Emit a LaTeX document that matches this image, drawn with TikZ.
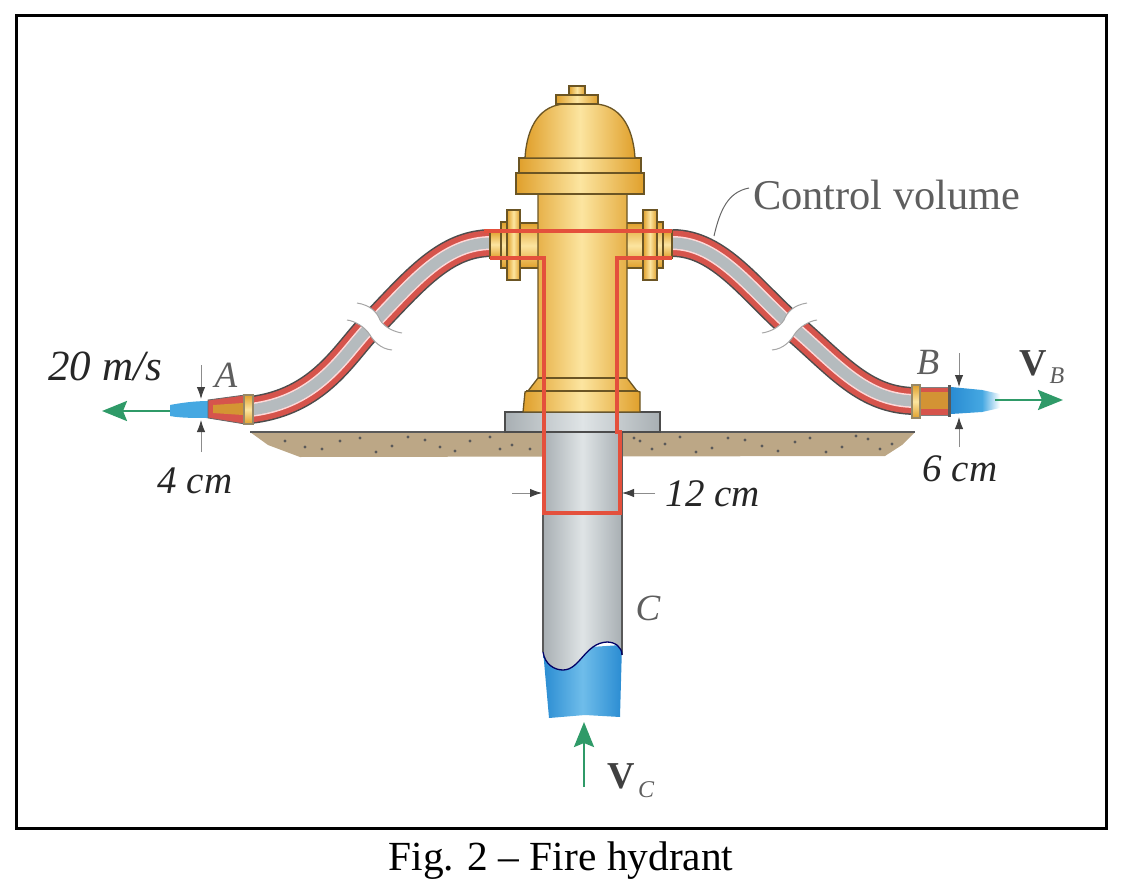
\documentclass[tikz,border=0pt]{standalone}
\usepackage{fontspec}
\setmainfont{Liberation Serif}
\usetikzlibrary{arrows.meta, positioning}
\definecolor{goldA}{HTML}{E0A02C}
\definecolor{goldB}{HTML}{FCE5A0}
\definecolor{goldEdge}{HTML}{6B5524}
\definecolor{hoseRed}{HTML}{D6544C}
\definecolor{volRed}{HTML}{E4503C}
\definecolor{pipeA}{HTML}{A8AFB3}
\definecolor{pipeB}{HTML}{DFE4E6}
\definecolor{waterA}{HTML}{2A8CD2}
\definecolor{waterB}{HTML}{6FBDEA}
\definecolor{waterC}{HTML}{45A8E2}
\definecolor{arrowGreen}{HTML}{2F9A68}
\definecolor{soil}{HTML}{BCA786}
\definecolor{labelGray}{HTML}{5E5E5E}
\newcommand{\hoseLeft}{(250,410) .. controls (320,402) and (345,352) .. (370,327) .. controls (415,280) and (445,243) .. (492,243)}
\newcommand{\hoseRight}{(672,243) .. controls (720,243) and (752,292) .. (794,328) .. controls (838,366) and (865,401) .. (916,401)}
\begin{document}
\begin{tikzpicture}
    [
        x=1pt, y=-1pt,
        goldpart/.style={draw=goldEdge, line width=1.3pt, left color=goldA, right color=goldA, middle color=goldB},
        goldarm/.style={draw=goldEdge, line width=1.3pt, top color=goldA, bottom color=goldA, middle color=goldB},
        platepart/.style={left color=pipeA, right color=pipeA, middle color=pipeB},
        cvline/.style={draw=volRed, line width=3.6pt, line join=miter},
        breakline/.style={draw=black!35, line width=1pt},
        dimline/.style={draw=black!45, line width=0.9pt, -{Latex[length=12pt,width=8.5pt,color=black!75]}},
        flowarrow/.style={draw=arrowGreen, line width=2.6pt, -{Stealth[length=25pt,width=20pt,inset=4pt,color=arrowGreen]}},
        ital/.style={font=\fontsize{39}{39}\selectfont\itshape, text=black!85},
        grayital/.style={font=\fontsize{37}{37}\selectfont\itshape, text=labelGray},
    ]
    \useasboundingbox (0,0) rectangle (1126,882);
    \draw[black, line width=3pt] (16,16) rectangle (1106,828);

    % ground
    \fill[soil] (250,432) -- (915,432) -- (902,445) -- (885,456) -- (300,457) -- (268,445) -- cycle;
    \draw[black!65, line width=1.6pt] (250,432) -- (915,432);
    \foreach \px/\py in {285/441, 305/447, 322/449, 340/441, 360/438, 376/452, 392/446, 408/437, 425/440, 440/447, 455/451,
        470/441, 490/437, 500/449, 512/445, 530/449, 634/438, 640/441, 652/449, 665/444, 680/437, 696/452, 712/448, 728/438,
        745/440, 762/446, 778/451, 795/442, 810/438, 826/452, 842/447, 856/436, 868/439, 880/449, 892/444}
        \fill[black!65] (\px,\py) circle (1.7pt);

    % hoses
    \foreach \hose in {\hoseLeft, \hoseRight} {
        \draw[black!70, line width=28pt] \hose;
        \draw[hoseRed, line width=25pt] \hose;
        \draw[white!85!red, line width=14pt] \hose;
        \draw[pipeA!85, line width=11pt] \hose;
    }

    % breaks in the hoses
    \fill[white] (357,303) .. controls (370,305) and (377,312) .. (380,320) .. controls (385,328) and (395,332) .. (402,333)
        -- (392,350) .. controls (380,349) and (373,340) .. (370,335) .. controls (365,327) and (355,321) .. (347,320) -- cycle;
    \draw[breakline] (357,303) .. controls (370,305) and (377,312) .. (380,320) .. controls (385,328) and (395,332) .. (402,333);
    \draw[breakline] (347,320) .. controls (355,321) and (365,327) .. (370,335) .. controls (373,340) and (380,349) .. (392,350);
    \fill[white] (807,303) .. controls (794,305) and (787,312) .. (784,320) .. controls (779,328) and (769,332) .. (762,333)
        -- (772,350) .. controls (784,349) and (791,340) .. (794,335) .. controls (799,327) and (809,321) .. (817,320) -- cycle;
    \draw[breakline] (807,303) .. controls (794,305) and (787,312) .. (784,320) .. controls (779,328) and (769,332) .. (762,333);
    \draw[breakline] (817,320) .. controls (809,321) and (799,327) .. (794,335) .. controls (791,340) and (784,349) .. (772,350);

    % nozzle A
    \fill[waterC] (170,405) .. controls (180,403) and (195,401) .. (208,401) -- (208,418) .. controls (195,418) and (180,418) .. (170,416) -- cycle;
    \fill[hoseRed, draw=black!60, line width=0.8pt] (208,400) -- (245,395) -- (245,424) -- (208,418) -- cycle;
    \fill[goldA!65!brown] (213,405) -- (243,403) -- (243,415) -- (213,413) -- cycle;
    \draw[goldarm, draw=goldEdge!70] (244,395) rectangle (253,424);

    % nozzle B
    \shade[left color=waterA, right color=waterC] (951,387) -- (982,390) -- (982,412) -- (951,414) -- cycle;
    \shade[left color=waterC, right color=white] (982,390) -- (1000,394) -- (1000,408) -- (982,412) -- cycle;
    \fill[hoseRed, draw=black!50, line width=0.8pt] (920,387) rectangle (948,415);
    \fill[goldA!60!brown] (920,392) rectangle (948,409);
    \draw[goldarm, draw=goldEdge!70] (912,385) rectangle (920,418);
    \fill[black!65] (948,385) rectangle (951,417);

    % pipe and water
    \shade[left color=waterA, right color=waterA, middle color=waterB] (543,650) -- (622,645) -- (620,717) -- (585,715) -- (549,718) -- cycle;
    \shade[platepart] (543,432) -- (543,652) .. controls (545,665) and (555,670) .. (563,670) .. controls (580,670) and (585,643) .. (607,642)
        .. controls (615,642) and (622,647) .. (622,655) -- (622,432) -- cycle;
    \draw[black!65, line width=1.3pt] (543,432) -- (543,652);
    \draw[black!65, line width=1.3pt] (622,432) -- (622,655);
    \draw[blue!40!black, line width=1.3pt] (543,652) .. controls (545,665) and (555,670) .. (563,670) .. controls (580,670) and (585,643) .. (607,642)
        .. controls (615,642) and (622,647) .. (622,655);
    \draw[platepart, draw=black!70, line width=1.3pt] (505,412) rectangle (660,432);

    % hydrant: arms and flanges
    \draw[goldarm] (490,231) rectangle (503,258);
    \draw[goldarm] (661,231) rectangle (672,258);
    \draw[goldarm] (501,222) -- (507,222) -- (507,268) -- (501,268) -- cycle;
    \draw[goldarm] (657,222) -- (663,222) -- (663,268) -- (657,268) -- cycle;
    \draw[goldarm] (518,223) rectangle (646,268);
    \draw[goldpart] (507,210) rectangle (520,280);
    \draw[goldpart] (643,210) rectangle (657,280);

    % hydrant: body, collars and dome
    \draw[goldpart] (523,412) -- (525,392) -- (528,391) -- (538,378) -- (538,194) -- (627,194) -- (627,378) -- (637,391) -- (640,392) -- (640,412) -- cycle;
    \draw[goldEdge, line width=1.3pt] (538,378) -- (627,378);
    \draw[goldEdge, line width=1.3pt] (526,391) -- (638,391);
    \draw[goldpart] (516,173) rectangle (644,194);
    \draw[goldpart] (519,158) rectangle (641,173);
    \draw[goldpart] (525,158) .. controls (527,125) and (541,105) .. (565,104) -- (595,104) .. controls (619,105) and (633,125) .. (635,158) -- cycle;
    \draw[goldpart] (556,95) rectangle (598,104);
    \draw[goldpart] (569,86) rectangle (585,95);

    % control volume
    \draw[cvline] (484,231) -- (672,231);
    \draw[cvline] (490,258) -- (544,258) -- (544,513) -- (620,513) -- (620,432) -- (617,432) -- (617,258) -- (672,258);

    % labels
    \node[ital, font=\fontsize{43}{43}\selectfont\itshape] (speedA) at (105,366) {20 m/s};
    \node[grayital] (labelA) at (226,375) {A};
    \node[ital] (diaA) at (195,481) {4 cm};
    \node[grayital] (labelB) at (928,362) {B};
    \node[ital] (diaB) at (960,469) {6 cm};
    \node[ital] (diaC) at (713,494) {12 cm};
    \node[grayital] (labelC) at (648,608) {C};
    \node[font=\fontsize{38}{38}\selectfont\bfseries, text=black!75] (velB) at (1033,363) {V};
    \node[font=\fontsize{24}{24}\selectfont\itshape, text=labelGray] (subB) at (1057,376) {B};
    \node[font=\fontsize{38}{38}\selectfont\bfseries, text=black!75] (velC) at (621,776) {V};
    \node[font=\fontsize{24}{24}\selectfont\itshape, text=labelGray] (subC) at (646,790) {C};
    \node[font=\fontsize{42.4}{42}\selectfont, text=labelGray, anchor=west, inner sep=0pt] (volume) at (753,195) {Control volume};
    \node[font=\fontsize{41.4}{41}\selectfont, text=black] (caption) at (561,861) {Fig. 2 -- Fire hydrant};

    % leader of the control volume label
    \coordinate (volumeEnd) at (714,236);
    \draw[black!60, line width=1pt] (volume.west) ++(-4,-7) .. controls (728,192) and (720,210) .. (volumeEnd);

    % dimension arrows
    \coordinate (dimAtop) at (201,365);
    \coordinate (dimAtopTip) at (201,399);
    \coordinate (dimAbot) at (201,452);
    \coordinate (dimAbotTip) at (201,420);
    \coordinate (dimBtop) at (959,353);
    \coordinate (dimBtopTip) at (959,387);
    \coordinate (dimBbot) at (959,447);
    \coordinate (dimBbotTip) at (959,417);
    \coordinate (dimCleft) at (512,493);
    \coordinate (dimCleftTip) at (542,493);
    \coordinate (dimCright) at (655,493);
    \coordinate (dimCrightTip) at (622,493);
    \draw[dimline] (dimAtop) -- (dimAtopTip);
    \draw[dimline] (dimAbot) -- (dimAbotTip);
    \draw[dimline] (dimBtop) -- (dimBtopTip);
    \draw[dimline] (dimBbot) -- (dimBbotTip);
    \draw[dimline] (dimCleft) -- (dimCleftTip);
    \draw[dimline] (dimCright) -- (dimCrightTip);

    % flow arrows
    \coordinate (flowAstart) at (170,411);
    \coordinate (flowAtip) at (102,411);
    \coordinate (flowBstart) at (995,400);
    \coordinate (flowBtip) at (1063,400);
    \coordinate (flowCstart) at (584,787);
    \coordinate (flowCtip) at (584,722);
    \draw[flowarrow] (flowAstart) -- (flowAtip);
    \draw[flowarrow] (flowBstart) -- (flowBtip);
    \draw[flowarrow] (flowCstart) -- (flowCtip);
\end{tikzpicture}
\end{document}
